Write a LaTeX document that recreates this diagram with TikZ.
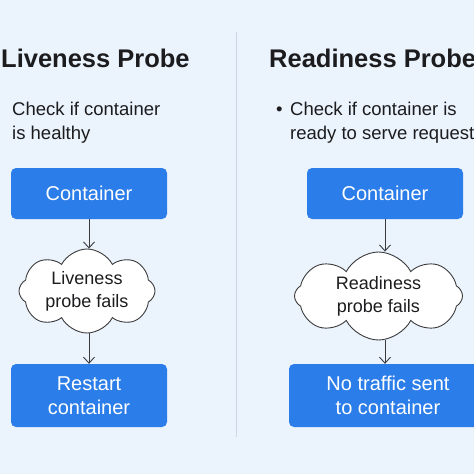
\documentclass[tikz,border=0pt]{standalone}
\usepackage{fontspec}
\setmainfont{Liberation Sans}
\usetikzlibrary{shapes.symbols,arrows.meta}
\definecolor{bg}{HTML}{EBF3FC}
\definecolor{boxblue}{HTML}{2B7DE9}
\definecolor{divider}{HTML}{CAD8E6}
\definecolor{ink}{HTML}{1C1C1E}
\definecolor{arrowink}{HTML}{3A3A3C}
\tikzset{
  bluebox/.style={fill=boxblue, rounded corners=5pt, text=white, align=center, inner sep=0pt,
    font=\fontsize{20}{23.5}\selectfont},
  cloudbox/.style={cloud, cloud puffs=8, cloud puff arc=125, cloud ignores aspect,
    draw=arrowink, line width=0.9pt, fill=white, align=center, inner sep=0pt,
    font=\fontsize{18}{23}\selectfont, text=ink},
  flow/.style={draw=arrowink, line width=0.9pt, -{Straight Barb[length=6pt,width=11pt]}},
  title/.style={anchor=base west, inner sep=0pt, text=ink, font=\fontsize{25.5}{30}\bfseries\selectfont},
  body/.style={anchor=base west, inner sep=0pt, text=ink, align=left, font=\fontsize{18.5}{24}\selectfont},
}
\begin{document}
\begin{tikzpicture}[x=1pt,y=-1pt]
\useasboundingbox (0,0) rectangle (474,474);
\clip (0,0) rectangle (474,474);
\fill[bg] (0,0) rectangle (474,474);
\draw[divider, line width=1.5pt] (236.5,32) -- (236.5,437);

% Left column
\node[title] (ltitle) at (1,67) {Liveness Probe};
\node[body] (ltext1) at (12,115) {Check if container};
\node[body] (ltext2) at (12,139) {is healthy};

\node[bluebox, minimum width=156pt, minimum height=51pt] (lc) at (89,193.5) {Container};
\node[cloudbox, minimum width=136pt, minimum height=84pt] (lcl) at (87,291) {Liveness\\probe fails};
\node[bluebox, minimum width=156pt, minimum height=63pt] (lr) at (89,395.5) {Restart\\container};

\draw[flow] (lc.south) -- (lc.south |- lcl.north);
\draw[flow] (lc.south |- lcl.south) -- (lr.north);

% Right column
\node[title] (rtitle) at (269,67) {Readiness Probe};
\node[body] (rbullet) at (276,115) {•};
\node[body] (rtext1) at (290,115) {Check if container is};
\node[body] (rtext2) at (290,139) {ready to serve requests};

\node[bluebox, minimum width=156pt, minimum height=51pt] (rc) at (385,193.5) {Container};
\node[cloudbox, minimum width=168pt, minimum height=88pt] (rcl) at (378.5,296) {Readiness\\probe fails};
\node[bluebox, minimum width=198pt, minimum height=63pt] (rn) at (388,395.5) {No traffic sent\\to container};

\draw[flow] (rc.south) -- (rc.south |- rcl.north);
\draw[flow] (rc.south |- rcl.south) -- (rc.south |- rn.north);
\end{tikzpicture}
\end{document}
